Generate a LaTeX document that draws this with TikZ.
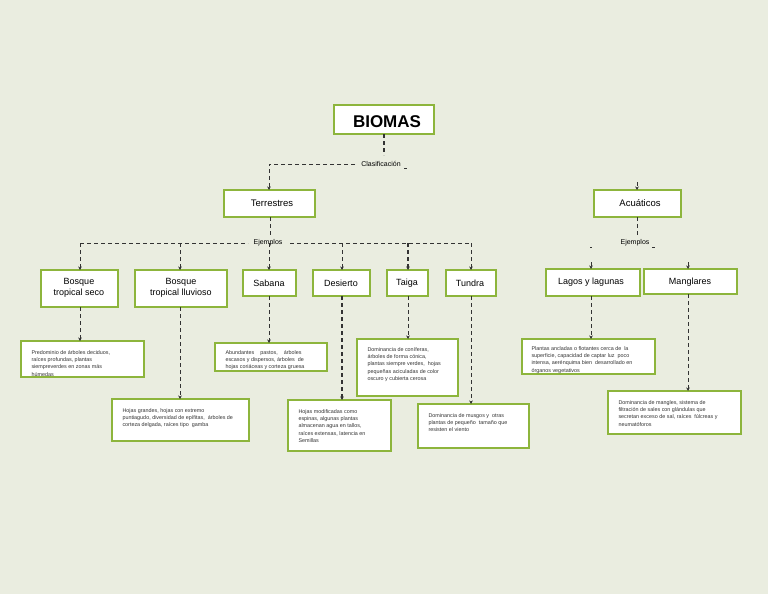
\documentclass[tikz,border=0pt]{standalone}
\usepackage{fontspec}
\setmainfont{Liberation Sans}
\usetikzlibrary{arrows.meta}
\definecolor{bg}{HTML}{EAEDE0}
\definecolor{gr}{HTML}{8DB53C}
\definecolor{ln}{HTML}{333333}
\begin{document}
\begin{tikzpicture}[x=1pt,y=-1pt,
 box/.style={draw=gr,line width=2pt,fill=white,inner sep=0pt},
 lab/.style={font=\fontsize{7}{8}\selectfont,fill=bg,inner sep=1pt},
 dtxt/.style={font=\fontsize{5.4}{7.2}\selectfont,align=left,anchor=north west,text=ln},
 con/.style={draw=ln,line width=0.7pt,dash pattern=on 4pt off 3pt,-{Stealth[length=3.5pt,width=3.5pt]}},
 seg/.style={draw=ln,line width=0.7pt,dash pattern=on 4pt off 3pt}]
\fill[bg] (0,0) rectangle (768,594);
\useasboundingbox (0,0) rectangle (768,594);
% main boxes
\draw[box] (334,105) rectangle (434,134); \node (bio) at (387,122) {\fontsize{17}{18}\selectfont\bfseries BIOMAS};
\coordinate (bioB) at (384,134);
\draw[box] (224,190) rectangle (315,217); \node (ter) at (272,203) {\fontsize{9.5}{11}\selectfont Terrestres};
\draw[box] (594,190) rectangle (681,217); \node (acu) at (640,203) {\fontsize{9.5}{11}\selectfont Acuáticos};
\draw[box] (41,270) rectangle (118,307); \node[align=center] (bts) at (79,288) {\fontsize{9}{11}\selectfont Bosque\\[-1pt]\fontsize{9}{11}\selectfont tropical seco};
\draw[box] (135,270) rectangle (227,307); \node[align=center] (btl) at (181,288) {\fontsize{9}{11}\selectfont Bosque\\[-1pt]\fontsize{9}{11}\selectfont tropical lluvioso};
\draw[box] (243,270) rectangle (296,296); \node (sab) at (269,283) {\fontsize{9}{11}\selectfont Sabana};
\draw[box] (313,270) rectangle (370,296); \node (des) at (341,283) {\fontsize{9}{11}\selectfont Desierto};
\draw[box] (387,270) rectangle (428,296); \node (tai) at (407,283) {\fontsize{9}{11}\selectfont Taiga};
\draw[box] (446,270) rectangle (496,296); \node (tun) at (470,283) {\fontsize{9}{11}\selectfont Tundra};
\draw[box] (546,269) rectangle (640,296); \node (lag) at (591,282) {\fontsize{9}{11}\selectfont Lagos y lagunas};
\draw[box] (644,269) rectangle (737,294); \node (man) at (690,282) {\fontsize{9}{11}\selectfont Manglares};
% description boxes
\draw[box] (21,341) rectangle (144,377); \node[dtxt] (d1) at (28,347) {Predominio de árboles deciduos,\\raíces profundas, plantas\\siempreverdes en zonas más\\húmedas};
\draw[box] (112,399) rectangle (249,441); \node[dtxt] (d2) at (119,405) {Hojas grandes, hojas con extremo\\puntiagudo, diversidad de epífitas,\ \ árboles de\\corteza delgada, raíces tipo\ \ gamba};
\draw[box] (215,343) rectangle (327,371); \node[dtxt] (d3) at (222,347) {Abundantes\ \ \ \ pastos,\ \ \ \ árboles\\escasos y dispersos,\ árboles\ \ de\\hojas coriáceas y corteza\ gruesa};
\draw[box] (288,400) rectangle (391,451); \node[dtxt] (d4) at (295,406) {Hojas modificadas como\\espinas, algunas plantas\\almacenan agua en tallos,\\raíces extensas, latencia en\\Semillas};
\draw[box] (357,339) rectangle (458,396); \node[dtxt] (d5) at (364,344) {Dominancia de coníferas,\\árboles de forma cónica,\\plantas siempre verdes,\ \ hojas\\pequeñas aciculadas\ de color\\oscuro y cubierta\ cerosa};
\draw[box] (418,404) rectangle (529,448); \node[dtxt] (d6) at (425,410) {Dominancia de musgos y\ \ otras\\plantas de pequeño\ \ tamaño que\\resisten el viento};
\draw[box] (522,339) rectangle (655,374); \node[dtxt] (d7) at (528,343) {Plantas ancladas o flotantes cerca de\ \ la\\superficie, capacidad de captar luz\ \ poco\\intensa, aerénquima bien\ \ desarrollado en\\órganos vegetativos};
\draw[box] (608,391) rectangle (741,434); \node[dtxt] (d8) at (615,397) {Dominancia de mangles, sistema de\\filtración de sales con glándulas que\\secretan exceso de sal, raíces\ \ fúlcreas y\\neumatóforos};
% connectors
\node[lab] (cla) at (381,164) {Clasificación};
\draw[seg,line width=1.6pt] (bioB) -- (384,155);
\coordinate (c1) at (355,164); \coordinate (c2) at (269,164); \coordinate (terT) at (269,190);
\draw[con] (c1) -- (c2) -- (terT);
\coordinate (s1) at (404,168); \coordinate (s2) at (407,168); \draw[ln] (s1) -- (s2);
\node[lab] (ej1) at (268,243) {Ejemplos};
\coordinate (terB) at (270,217); \coordinate (t2) at (270,236);
\draw[seg] (terB) -- (t2);
\coordinate (hl) at (80,243); \coordinate (hlm) at (248,243); \coordinate (hrm) at (290,243); \coordinate (hr) at (471,243);
\draw[seg] (hl) -- (hlm); \draw[seg] (hrm) -- (hr);
\foreach \x/\t in {80/bts,180/btl,269/sab,342/des,408/tai,471/tun}{
  \coordinate (a\t) at (\x,243); \coordinate (b\t) at (\x,270);
}
\draw[con] (abts) -- (bbts); \draw[con] (abtl) -- (bbtl); \draw[con] (asab) -- (bsab);
\draw[con] (ades) -- (bdes); \draw[con,line width=1.3pt] (atai) -- (btai); \draw[con] (atun) -- (btun);
\coordinate (v1a) at (80,307); \coordinate (v1b) at (80,341); \draw[con] (v1a) -- (v1b);
\coordinate (v2a) at (180,307); \coordinate (v2b) at (180,399); \draw[con] (v2a) -- (v2b);
\coordinate (v3a) at (269,296); \coordinate (v3b) at (269,343); \draw[con] (v3a) -- (v3b);
\coordinate (v4a) at (342,296); \coordinate (v4b) at (342,400); \draw[con,line width=1.4pt] (v4a) -- (v4b);
\coordinate (v5a) at (408,296); \coordinate (v5b) at (408,339); \draw[con] (v5a) -- (v5b);
\coordinate (v6a) at (471,296); \coordinate (v6b) at (471,404); \draw[con] (v6a) -- (v6b);
% aquatic
\node[lab] (ej2) at (635,243) {Ejemplos};
\coordinate (acuB) at (637,217); \coordinate (acu2) at (637,235); \draw[seg] (acuB) -- (acu2);
\coordinate (acuT1) at (637,182); \coordinate (acuT2) at (637,190); \draw[con] (acuT1) -- (acuT2);
\coordinate (q1) at (590,247); \coordinate (q2) at (592,247); \draw[ln] (q1) -- (q2);
\coordinate (q3) at (652,247); \coordinate (q4) at (655,247); \draw[ln] (q3) -- (q4);
\coordinate (l1) at (591,262); \coordinate (l2) at (591,269); \draw[con] (l1) -- (l2);
\coordinate (m1) at (688,262); \coordinate (m2) at (688,269); \draw[con] (m1) -- (m2);
\coordinate (w1a) at (591,296); \coordinate (w1b) at (591,339); \draw[con] (w1a) -- (w1b);
\coordinate (w2a) at (688,294); \coordinate (w2b) at (688,391); \draw[con] (w2a) -- (w2b);
\end{tikzpicture}
\end{document}
